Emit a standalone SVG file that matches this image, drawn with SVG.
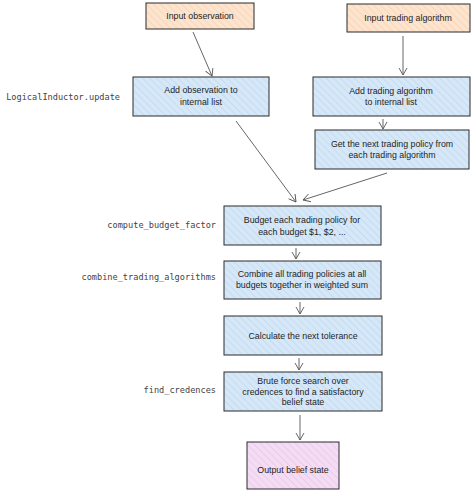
<svg xmlns="http://www.w3.org/2000/svg" width="474" height="493" viewBox="0 0 474 493">
<defs>
<style>
.box{stroke:#2b2b2b;stroke-width:1}
.t{font-family:"Liberation Sans","Noto Sans",sans-serif;font-size:8.8px;fill:#1e1e1e;text-anchor:middle;dominant-baseline:central}
.lbl{font-family:"DejaVu Sans Mono","Liberation Mono",monospace;font-size:8.6px;fill:#444;text-anchor:end;dominant-baseline:central}
.c{stroke:#555;stroke-width:0.9;fill:none}
</style>
<pattern id="hO" width="5" height="5" patternUnits="userSpaceOnUse" patternTransform="rotate(-45)">
<rect width="5" height="5" fill="#fde4ce"/><line x1="0" y1="0" x2="0" y2="5" stroke="#f3c9a4" stroke-width="1"/>
</pattern>
<pattern id="hB" width="5" height="5" patternUnits="userSpaceOnUse" patternTransform="rotate(-45)">
<rect width="5" height="5" fill="#d6e8f8"/><line x1="0" y1="0" x2="0" y2="5" stroke="#b3d0ea" stroke-width="1"/>
</pattern>
<pattern id="hP" width="5" height="5" patternUnits="userSpaceOnUse" patternTransform="rotate(-45)">
<rect width="5" height="5" fill="#f4dcf4"/><line x1="0" y1="0" x2="0" y2="5" stroke="#e2bde2" stroke-width="1"/>
</pattern>
<marker id="ah" markerWidth="10" markerHeight="10" refX="8" refY="5" orient="auto" markerUnits="userSpaceOnUse">
<path d="M1,1 L8,5 L1,9" fill="none" stroke="#555" stroke-width="0.9"/>
</marker>
</defs>
<rect width="474" height="493" fill="#ffffff"/>

<g id="labels">
<text class="lbl" x="120" y="97">LogicalInductor.update</text>
<text class="lbl" x="216" y="225">compute_budget_factor</text>
<text class="lbl" x="216" y="277">combine_trading_algorithms</text>
<text class="lbl" x="216" y="390">find_credences</text>
</g>

<g id="connectors">
<line class="c" x1="193" y1="32" x2="212" y2="76" marker-end="url(#ah)"/>
<line class="c" x1="403" y1="36" x2="403" y2="75" marker-end="url(#ah)"/>
<line class="c" x1="383" y1="119" x2="383" y2="129" marker-end="url(#ah)"/>
<line class="c" x1="236" y1="121" x2="296" y2="202" marker-end="url(#ah)"/>
<line class="c" x1="387" y1="173" x2="303" y2="200" marker-end="url(#ah)"/>
<line class="c" x1="296" y1="248" x2="296" y2="259" marker-end="url(#ah)"/>
<line class="c" x1="300" y1="302" x2="300" y2="314" marker-end="url(#ah)"/>
<line class="c" x1="299" y1="358" x2="299" y2="370" marker-end="url(#ah)"/>
<line class="c" x1="300" y1="415" x2="300" y2="440" marker-end="url(#ah)"/>
</g>

<g id="n-input-obs">
<rect class="box" x="146" y="3" width="108" height="26" fill="url(#hO)"/>
<text class="t" x="200" y="16">Input observation</text>
</g>
<g id="n-input-alg">
<rect class="box" x="347" y="4" width="123" height="28" fill="url(#hO)"/>
<text class="t" x="408" y="18">Input trading algorithm</text>
</g>
<g id="n-add-obs">
<rect class="box" x="133" y="77" width="136" height="39" fill="url(#hB)"/>
<text class="t" x="201" y="90">Add observation to</text>
<text class="t" x="201" y="102">internal list</text>
</g>
<g id="n-add-alg">
<rect class="box" x="313" y="77" width="157" height="39" fill="url(#hB)"/>
<text class="t" x="391" y="91">Add trading algorithm</text>
<text class="t" x="391" y="102">to internal list</text>
</g>
<g id="n-get-next">
<rect class="box" x="315" y="130" width="154" height="39" fill="url(#hB)"/>
<text class="t" x="392" y="144">Get the next trading policy from</text>
<text class="t" x="392" y="155">each trading algorithm</text>
</g>
<g id="n-budget">
<rect class="box" x="224" y="206" width="157" height="39" fill="url(#hB)"/>
<text class="t" x="302" y="220">Budget each trading policy for</text>
<text class="t" x="302" y="232">each budget $1, $2, ...</text>
</g>
<g id="n-combine">
<rect class="box" x="224" y="261" width="157" height="38" fill="url(#hB)"/>
<text class="t" x="302" y="274">Combine all trading policies at all</text>
<text class="t" x="302" y="285">budgets together in weighted sum</text>
</g>
<g id="n-tolerance">
<rect class="box" x="224" y="316" width="158" height="39" fill="url(#hB)"/>
<text class="t" x="303" y="336">Calculate the next tolerance</text>
</g>
<g id="n-brute">
<rect class="box" x="224" y="372" width="158" height="39" fill="url(#hB)"/>
<text class="t" x="303" y="381">Brute force search over</text>
<text class="t" x="303" y="392">credences to find a satisfactory</text>
<text class="t" x="303" y="402">belief state</text>
</g>
<g id="n-output">
<rect class="box" x="247" y="442" width="92" height="47" fill="url(#hP)"/>
<text class="t" x="293" y="470">Output belief state</text>
</g>
</svg>
